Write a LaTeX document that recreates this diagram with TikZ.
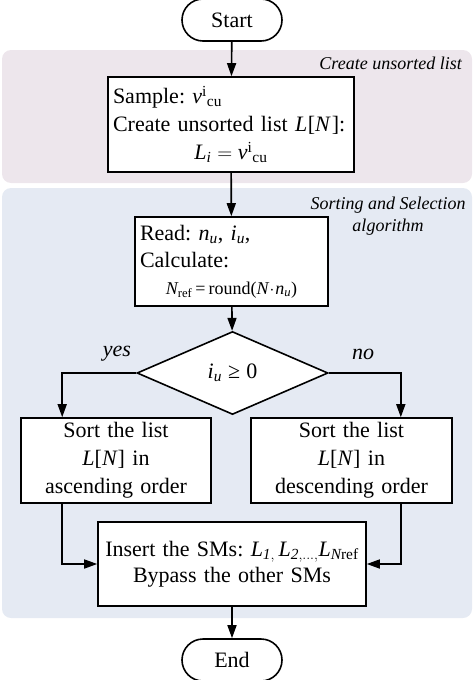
\documentclass[tikz,border=0pt]{standalone}
\usepackage{fontspec}
\setmainfont{Liberation Serif}
\usetikzlibrary{shapes.geometric,shapes.misc,arrows.meta}
\definecolor{panelpink}{RGB}{237,230,236}
\definecolor{panelblue}{RGB}{229,234,243}
\newcommand{\vicu}{$\mathit{v}^{\mathrm{i}}{}_{\mathrm{cu}}$}
\newcommand{\LN}{\textit{L}\kern0.5pt[\textit{N}\kern1pt]:}
\begin{document}
\frenchspacing
\begin{tikzpicture}[x=1pt,y=-1pt,
  base/.style={draw=black,line width=1.6pt,fill=white,font=\fontsize{22}{28}\selectfont\frenchspacing},
  box/.style={base,rectangle,inner xsep=5pt,inner ysep=2pt},
  term/.style={base,rounded rectangle,minimum width=100pt,minimum height=42pt,inner sep=0pt},
  dec/.style={base,diamond,minimum width=191pt,minimum height=83pt,inner sep=0pt},
  arr/.style={line width=1.6pt,-{Triangle[length=13pt,width=9pt]}},
  plabel/.style={font=\fontsize{18}{22}\selectfont\itshape,inner sep=0pt},
  ylabel/.style={font=\fontsize{22}{26}\selectfont\itshape,inner sep=0pt}]
\useasboundingbox (0,0) rectangle (474,680);
% panels
\fill[panelpink,rounded corners=9pt] (2,50) rectangle (472,183);
\fill[panelblue,rounded corners=9pt] (2,188) rectangle (472,618);
\node[plabel,anchor=east] (lab1) at (462,63) {Create unsorted list};
\node[plabel,align=center] (lab2) at (388,216) {Sorting and Selection\\algorithm};
% nodes
\node[term] (start) at (232,20) {Start};
\node[box,minimum height=95pt,text width=236pt,align=left] (b1) at (231,124.5)
  {Sample: \vicu\\Create unsorted list \LN\\\makebox[236pt][c]{$\mathit{L}_{\mathit{i}}=\mathit{v}^{\mathrm{i}}{}_{\mathrm{cu}}$}};
\node[box,minimum height=89pt,text width=183pt,align=left,font=\fontsize{22}{27}\selectfont\frenchspacing] (b2) at (231.5,261.5)
  {Read: $\mathit{n}_{\mathit{u}}$, $\mathit{i}_{\mathit{u}}$,\\Calculate:\\\makebox[183pt][c]{\fontsize{18}{27}\selectfont$\mathit{N}_{\mathrm{ref}}$\,=\,round($\mathit{N}\mkern1mu{\cdotp}\mkern1mu\mathit{n}_{\mathit{u}}$)}};
\node[dec] (d) at (232.5,373) {$\mathit{i}_{\mathit{u}}$\;≥\;0};
\node[ylabel] (yes) at (117,354) {yes};
\node[ylabel] (no) at (363,354) {no};
\node[box,minimum height=85pt,text width=180pt,align=center] (sl) at (116,460.5)
  {Sort the list\\\textit{L}[\textit{N}] in\\ascending order};
\node[box,minimum height=85pt,text width=191pt,align=center] (sr) at (351.5,460.5)
  {Sort the list\\\textit{L}[\textit{N}] in\\descending order};
\node[box,minimum height=84pt,text width=258pt,align=center,font=\fontsize{22}{26}\selectfont\frenchspacing] (ins) at (232,564)
  {Insert the SMs: $\mathit{L}_{\mathit{1,}}\,\mathit{L}_{\mathit{2,\dots,}}\mathit{L}_{\mathit{N}\mathrm{ref}}$\\Bypass the other SMs};
\node[term] (end) at (232,660) {End};
% connectors
\draw[arr] (start) -- (b1);
\draw[arr] (b1) -- (b2);
\draw[arr] (b2) -- (d);
\draw[arr] (d.west) -| ([xshift=42pt]sl.north west);
\draw[arr] (d.east) -| ([xshift=-52pt]sr.north east);
\draw[arr] ([xshift=42pt]sl.south west) |- (ins.west);
\draw[arr] ([xshift=-52pt]sr.south east) |- (ins.east);
\draw[arr] (ins) -- (end);
\end{tikzpicture}
\end{document}
